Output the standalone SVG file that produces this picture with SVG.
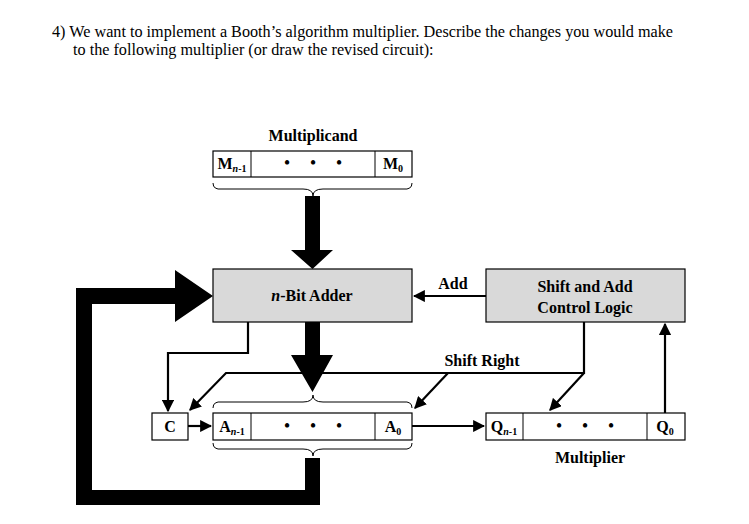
<svg xmlns="http://www.w3.org/2000/svg" width="749" height="524" viewBox="0 0 749 524">
<style>
.t{font-family:"Liberation Serif",serif;font-size:16.2px;fill:#000}
.b{font-family:"Liberation Serif",serif;font-size:16px;font-weight:bold;fill:#000}
.d{font-family:"Liberation Serif",serif;font-size:16px;font-weight:bold;fill:#000}
.r{fill:#fff;stroke:#000;stroke-width:1.2}
.g{fill:#d9d9d9;stroke:#000;stroke-width:1.2}
.l{fill:none;stroke:#000;stroke-width:2.2}
.br{fill:none;stroke:#000;stroke-width:1}
</style>
<defs><marker id="a" viewBox="0 0 10 10" refX="9" refY="5" markerWidth="5.5" markerHeight="5.5" orient="auto"><path d="M0,0L10,5L0,10z"/></marker></defs>
<rect width="749" height="524" fill="#fff"/>
<text class="t" x="52" y="37">4)  We want to implement a Booth’s algorithm multiplier. Describe the changes you would make</text>
<text class="t" x="73" y="55">to the following multiplier (or draw the revised circuit):</text>
<g id="multiplicand">
<text class="b" x="313" y="141" text-anchor="middle">Multiplicand</text>
<rect class="r" x="213" y="151" width="199" height="26"/>
<line class="br" x1="251" y1="151" x2="251" y2="177"/><line class="br" x1="375" y1="151" x2="375" y2="177"/>
<text class="b" x="232" y="169" text-anchor="middle">M<tspan font-style="italic" font-size="10" dy="3">n</tspan><tspan font-size="10">-1</tspan></text>
<text class="d" y="168" text-anchor="middle"><tspan x="287">•</tspan><tspan x="313">•</tspan><tspan x="339">•</tspan></text>
<text class="b" x="393" y="169" text-anchor="middle">M<tspan font-size="10" dy="3">0</tspan></text>
<path class="br" d="M213,183 Q213,190 222,189 L303,189 Q313,189 313,196 Q313,189 323,189 L403,189 Q412,190 412,183"/>
</g>
<g id="adder">
<rect class="g" x="213" y="269" width="199" height="53"/>
<text class="b" x="312" y="301" text-anchor="middle"><tspan font-style="italic">n</tspan>-Bit Adder</text>
</g>
<g id="control">
<rect class="g" x="486" y="269" width="199" height="53"/>
<text class="b" x="585" y="292" text-anchor="middle">Shift and Add</text>
<text class="b" x="585" y="313" text-anchor="middle">Control Logic</text>
</g>
<g id="cReg"><rect class="r" x="152" y="413" width="36" height="27"/><text class="b" x="170" y="432" text-anchor="middle">C</text></g>
<g id="aReg">
<rect class="r" x="213" y="413" width="199" height="27"/>
<line class="br" x1="251" y1="413" x2="251" y2="440"/><line class="br" x1="375" y1="413" x2="375" y2="440"/>
<text class="b" x="232" y="432" text-anchor="middle">A<tspan font-style="italic" font-size="10" dy="3">n</tspan><tspan font-size="10">-1</tspan></text>
<text class="d" y="431" text-anchor="middle"><tspan x="287">•</tspan><tspan x="313">•</tspan><tspan x="339">•</tspan></text>
<text class="b" x="393" y="432" text-anchor="middle">A<tspan font-size="10" dy="3">0</tspan></text>
<path class="br" d="M213,408 Q213,401 222,402 L303,402 Q313,402 313,395 Q313,402 323,402 L403,402 Q412,401 412,408"/>
<path class="br" d="M213,443 Q213,450 222,449 L303,449 Q313,449 313,456 Q313,449 323,449 L403,449 Q412,450 412,443"/>
</g>
<g id="qReg">
<rect class="r" x="486" y="413" width="199" height="27"/>
<line class="br" x1="523" y1="413" x2="523" y2="440"/><line class="br" x1="647" y1="413" x2="647" y2="440"/>
<text class="b" x="504" y="432" text-anchor="middle">Q<tspan font-style="italic" font-size="10" dy="3">n</tspan><tspan font-size="10">-1</tspan></text>
<text class="d" y="431" text-anchor="middle"><tspan x="559">•</tspan><tspan x="585">•</tspan><tspan x="611">•</tspan></text>
<text class="b" x="665" y="432" text-anchor="middle">Q<tspan font-size="10" dy="3">0</tspan></text>
<text class="b" x="590" y="463" text-anchor="middle">Multiplier</text>
</g>
<g id="connectors">
<path d="M305,196H320V250H333L312.5,269L291,250H305Z"/>
<path d="M305,322H320V355H333L312.5,392L291,355H305Z"/>
<path d="M305,458H320V505H76V288H175V270L213,296L175,322V304H92V490H305Z"/>
<line class="l" x1="486" y1="296" x2="414" y2="296" marker-end="url(#a)"/>
<text class="b" x="453" y="289" text-anchor="middle">Add</text>
<polyline class="l" points="248,322 248,353 168,353 168,411" marker-end="url(#a)"/>
<line class="l" x1="188" y1="426" x2="211" y2="426" marker-end="url(#a)"/>
<line class="l" x1="412" y1="426" x2="484" y2="426" marker-end="url(#a)"/>
<polyline class="l" points="584,322 584,373 226,373 190,410" marker-end="url(#a)"/>
<line class="l" x1="448" y1="373" x2="415" y2="408" marker-end="url(#a)"/>
<line class="l" x1="584" y1="373" x2="550" y2="410" marker-end="url(#a)"/>
<line class="l" x1="665" y1="413" x2="665" y2="324" marker-end="url(#a)"/>
<text class="b" x="482" y="366" text-anchor="middle">Shift Right</text>
</g>
</svg>
